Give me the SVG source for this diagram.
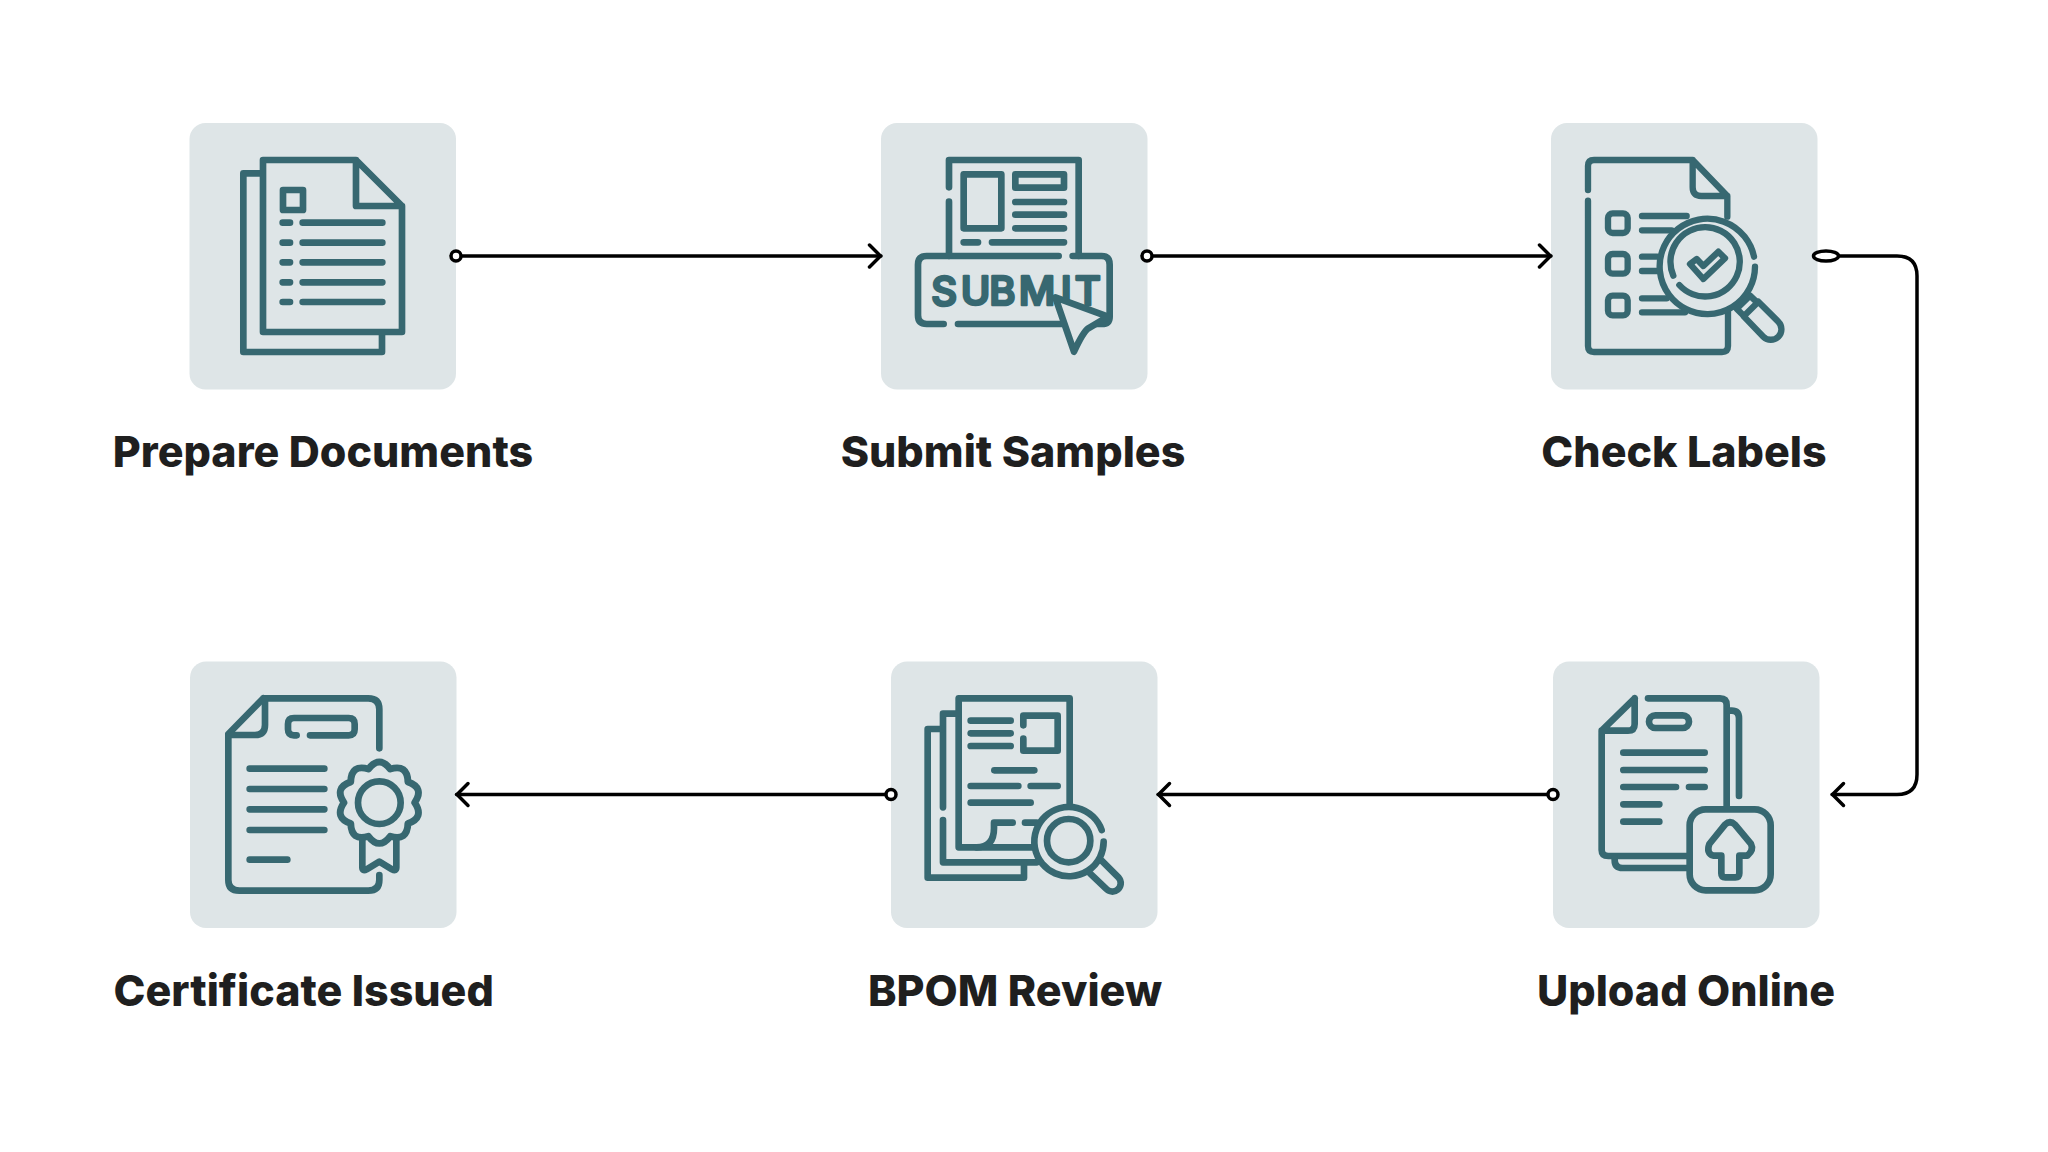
<svg xmlns="http://www.w3.org/2000/svg" width="2048" height="1152" viewBox="0 0 2048 1152">
<style>
.bg{fill:#dee5e7}
.ic{fill:none;stroke:#376871;stroke-width:20;stroke-linecap:round;stroke-linejoin:round}
.lb{font-family:Inter,"Liberation Sans",sans-serif;font-weight:800;font-size:43px;fill:#1f1f1f}
.sm{font-family:Inter,"Liberation Sans",sans-serif;font-weight:500;font-size:120px;fill:#376871;stroke:#376871;stroke-width:8;stroke-linejoin:round}
.cn{fill:none;stroke:#000;stroke-width:3.500;stroke-linecap:round;stroke-linejoin:round}
</style>
<defs>
<marker id="arrow" markerUnits="userSpaceOnUse" markerWidth="30" markerHeight="30" refX="17" refY="15" orient="auto">
<path d="M5.500 4L16.500 15L5.500 26" fill="none" stroke="#000" stroke-width="3.500" stroke-linecap="round" stroke-linejoin="round"/>
</marker>
<marker id="dot" markerUnits="userSpaceOnUse" markerWidth="18" markerHeight="18" refX="9" refY="9" orient="auto">
<circle cx="9" cy="9" r="5" fill="#fff" stroke="#000" stroke-width="3.500"/>
</marker>
</defs>

<g id="node-prepare-documents">
<rect class="bg" x="189.500" y="123" width="266.500" height="266.500" rx="16"/>
<g class="ic" transform="translate(180 110) scale(.33333)">
<path d="M240 190H190V726H606V668"/>
<path d="M528 150H249V666H666V288ZM528 150V288H666"/>
<rect x="309" y="240" width="60" height="60"/>
<path d="M308 338H330M368 338H607M308 398H330M368 398H607M308 457H330M368 457H607M308 517H330M368 517H607M308 576H330M368 576H607"/>
</g>
<text class="lb" x="323" y="467" text-anchor="middle">Prepare Documents</text>
</g>

<g id="node-submit-samples">
<rect class="bg" x="881" y="123" width="266.500" height="266.500" rx="16"/>
<g transform="translate(870 110) scale(.33333)">
<g class="ic">
<path d="M237 232V150H626V438M237 275V438"/>
<rect x="281" y="193" width="113" height="162"/>
<rect x="436" y="193" width="146" height="40"/>
<path d="M436 276H582M436 314H582M436 355H582M281 397H324M366 397H582"/>
<path d="M566 438H170Q144 438 144 464V616Q144 642 170 642H221M264 642H575M608 438H695Q719 438 719 464V620Q719 642 695 642H660"/>
</g>
<text class="sm" y="586"><tspan x="184">S</tspan><tspan x="272">U</tspan><tspan x="358">B</tspan><tspan x="446">M</tspan><tspan x="572">I</tspan><tspan x="614">T</tspan></text>
<path class="ic" style="fill:#dee5e7" d="M556 562L714 620L655 655Q640 665 612 725Z"/>
</g>
<text class="lb" x="1013" y="467" text-anchor="middle">Submit Samples</text>
</g>

<g id="node-check-labels">
<rect class="bg" x="1551" y="123" width="266.500" height="266.500" rx="16"/>
<g class="ic" transform="translate(1550 110) scale(.33333)" style="stroke-width:19">
<path d="M114 240V168Q114 150 132 150H428L532 258V320M114 272V708Q114 726 132 726H516Q534 726 534 708V600M428 150V232Q428 258 454 258H532"/>
<rect x="174" y="310" width="59" height="59" rx="14"/>
<rect x="174" y="432" width="59" height="59" rx="14"/>
<rect x="174" y="557" width="59" height="59" rx="14"/>
<path d="M276 318H410M276 361H365M276 440H322M276 483H322M276 565H350M276 607H405"/>
<path d="M612 440A143 143 0 1 0 615 470"/>
<path d="M388 525A104 104 0 1 0 370 497"/>
<path d="M600 557L622 578L582 618L560 596Z"/>
<path d="M625 575L685 635A30 30 0 0 1 640 680L582 620"/>
<path d="M420 462L440 447L460 468L505 425L525 445L460 507Z"/>
</g>
<text class="lb" x="1684" y="467" text-anchor="middle">Check Labels</text>
</g>

<g id="node-upload-online">
<rect class="bg" x="1553" y="661.500" width="266.500" height="266.500" rx="16"/>
<g class="ic" transform="translate(1550 650) scale(.33333)">
<path d="M254 145L155 242V600Q155 618 175 618H415M294 145H510Q530 145 530 165V470M254 145V222Q254 242 234 242H155"/>
<path d="M538 182H545Q567 182 567 205V438M194 625V630Q194 654 218 654H415"/>
<rect x="297" y="196" width="120" height="38" rx="19"/>
<path d="M220 308H464M220 360H464M220 411H378M417 411H464M220 463H328M220 515H328"/>
<rect x="419" y="478" width="243" height="243" rx="48"/>
<path d="M525 524Q540 510 555 524L603 582Q612 600 592 617H568V670Q568 682 556 682H526Q514 682 514 670V617H490Q468 610 478 582Z"/>
</g>
<text class="lb" x="1686" y="1005.500" text-anchor="middle">Upload Online</text>
</g>

<g id="node-bpom-review">
<rect class="bg" x="891" y="661.500" width="266.500" height="266.500" rx="16"/>
<g class="ic" transform="translate(880 650) scale(.33333)">
<path d="M569 460V145H236V592H458"/>
<path d="M232 191H189V472M189 510V637H470"/>
<path d="M185 237H143V683H432V640"/>
<path d="M272 212H392M272 250H392M272 288H392"/>
<path d="M430 226V197H533V302H430V266"/>
<path d="M343 361H463M272 408H415M452 408H533M272 458H452"/>
<path d="M398 518H342V535Q342 592 290 592M435 518H470"/>
<path d="M665 540A104 104 0 1 0 671 575"/>
<circle cx="566" cy="572" r="65"/>
<path d="M630 670L678 716A24 24 0 0 0 716 683L665 632"/>
</g>
<text class="lb" x="1015" y="1005.500" text-anchor="middle">BPOM Review</text>
</g>

<g id="node-certificate-issued">
<rect class="bg" x="190" y="661.500" width="266.500" height="266.500" rx="16"/>
<g class="ic" transform="translate(180 650) scale(.33333)">
<path d="M250 145L145 252V690Q145 722 178 722H565Q598 722 598 690V675M250 145H565Q598 145 598 178V295"/>
<path d="M255 148V225Q255 255 225 255H145"/>
<path d="M350 256H342Q324 256 324 238V222Q324 204 342 204H506Q524 204 524 222V238Q524 256 506 256H390"/>
<path d="M209 356H433M209 417H433M209 478H433M209 540H433M209 629H322"/>
<circle cx="598" cy="458" r="64"/>
<path transform="translate(598 458) scale(1.04) translate(-598 -458)" d="M566.500 361Q598 320 629.500 361Q679 346 680.500 398Q729 415 700 458Q729 501 680.500 518Q679 570 629.500 555Q598 596 566.500 555Q517 570 515.500 518Q467 501 496 458Q467 415 515.500 398Q517 346 566.500 361Z"/>
<path d="M547 568V652Q547 665 560 658L598 635L636 658Q649 665 649 652V568"/>
</g>
<text class="lb" x="113.500" y="1005.500">Certificate Issued</text>
</g>

<g id="connectors">
<path class="cn" d="M456 256H881" marker-start="url(#dot)" marker-end="url(#arrow)"/>
<path class="cn" d="M1147 256H1551" marker-start="url(#dot)" marker-end="url(#arrow)"/>
<path class="cn" d="M1840 256H1897Q1917 256 1917 276V774.500Q1917 794.500 1897 794.500H1832" marker-end="url(#arrow)"/>
<ellipse cx="1826" cy="256" rx="12.500" ry="5" fill="#fff" stroke="#000" stroke-width="3.500"/>
<path class="cn" d="M1553 794.500H1158" marker-start="url(#dot)" marker-end="url(#arrow)"/>
<path class="cn" d="M891 794.500H456.500" marker-start="url(#dot)" marker-end="url(#arrow)"/>
</g>
</svg>
